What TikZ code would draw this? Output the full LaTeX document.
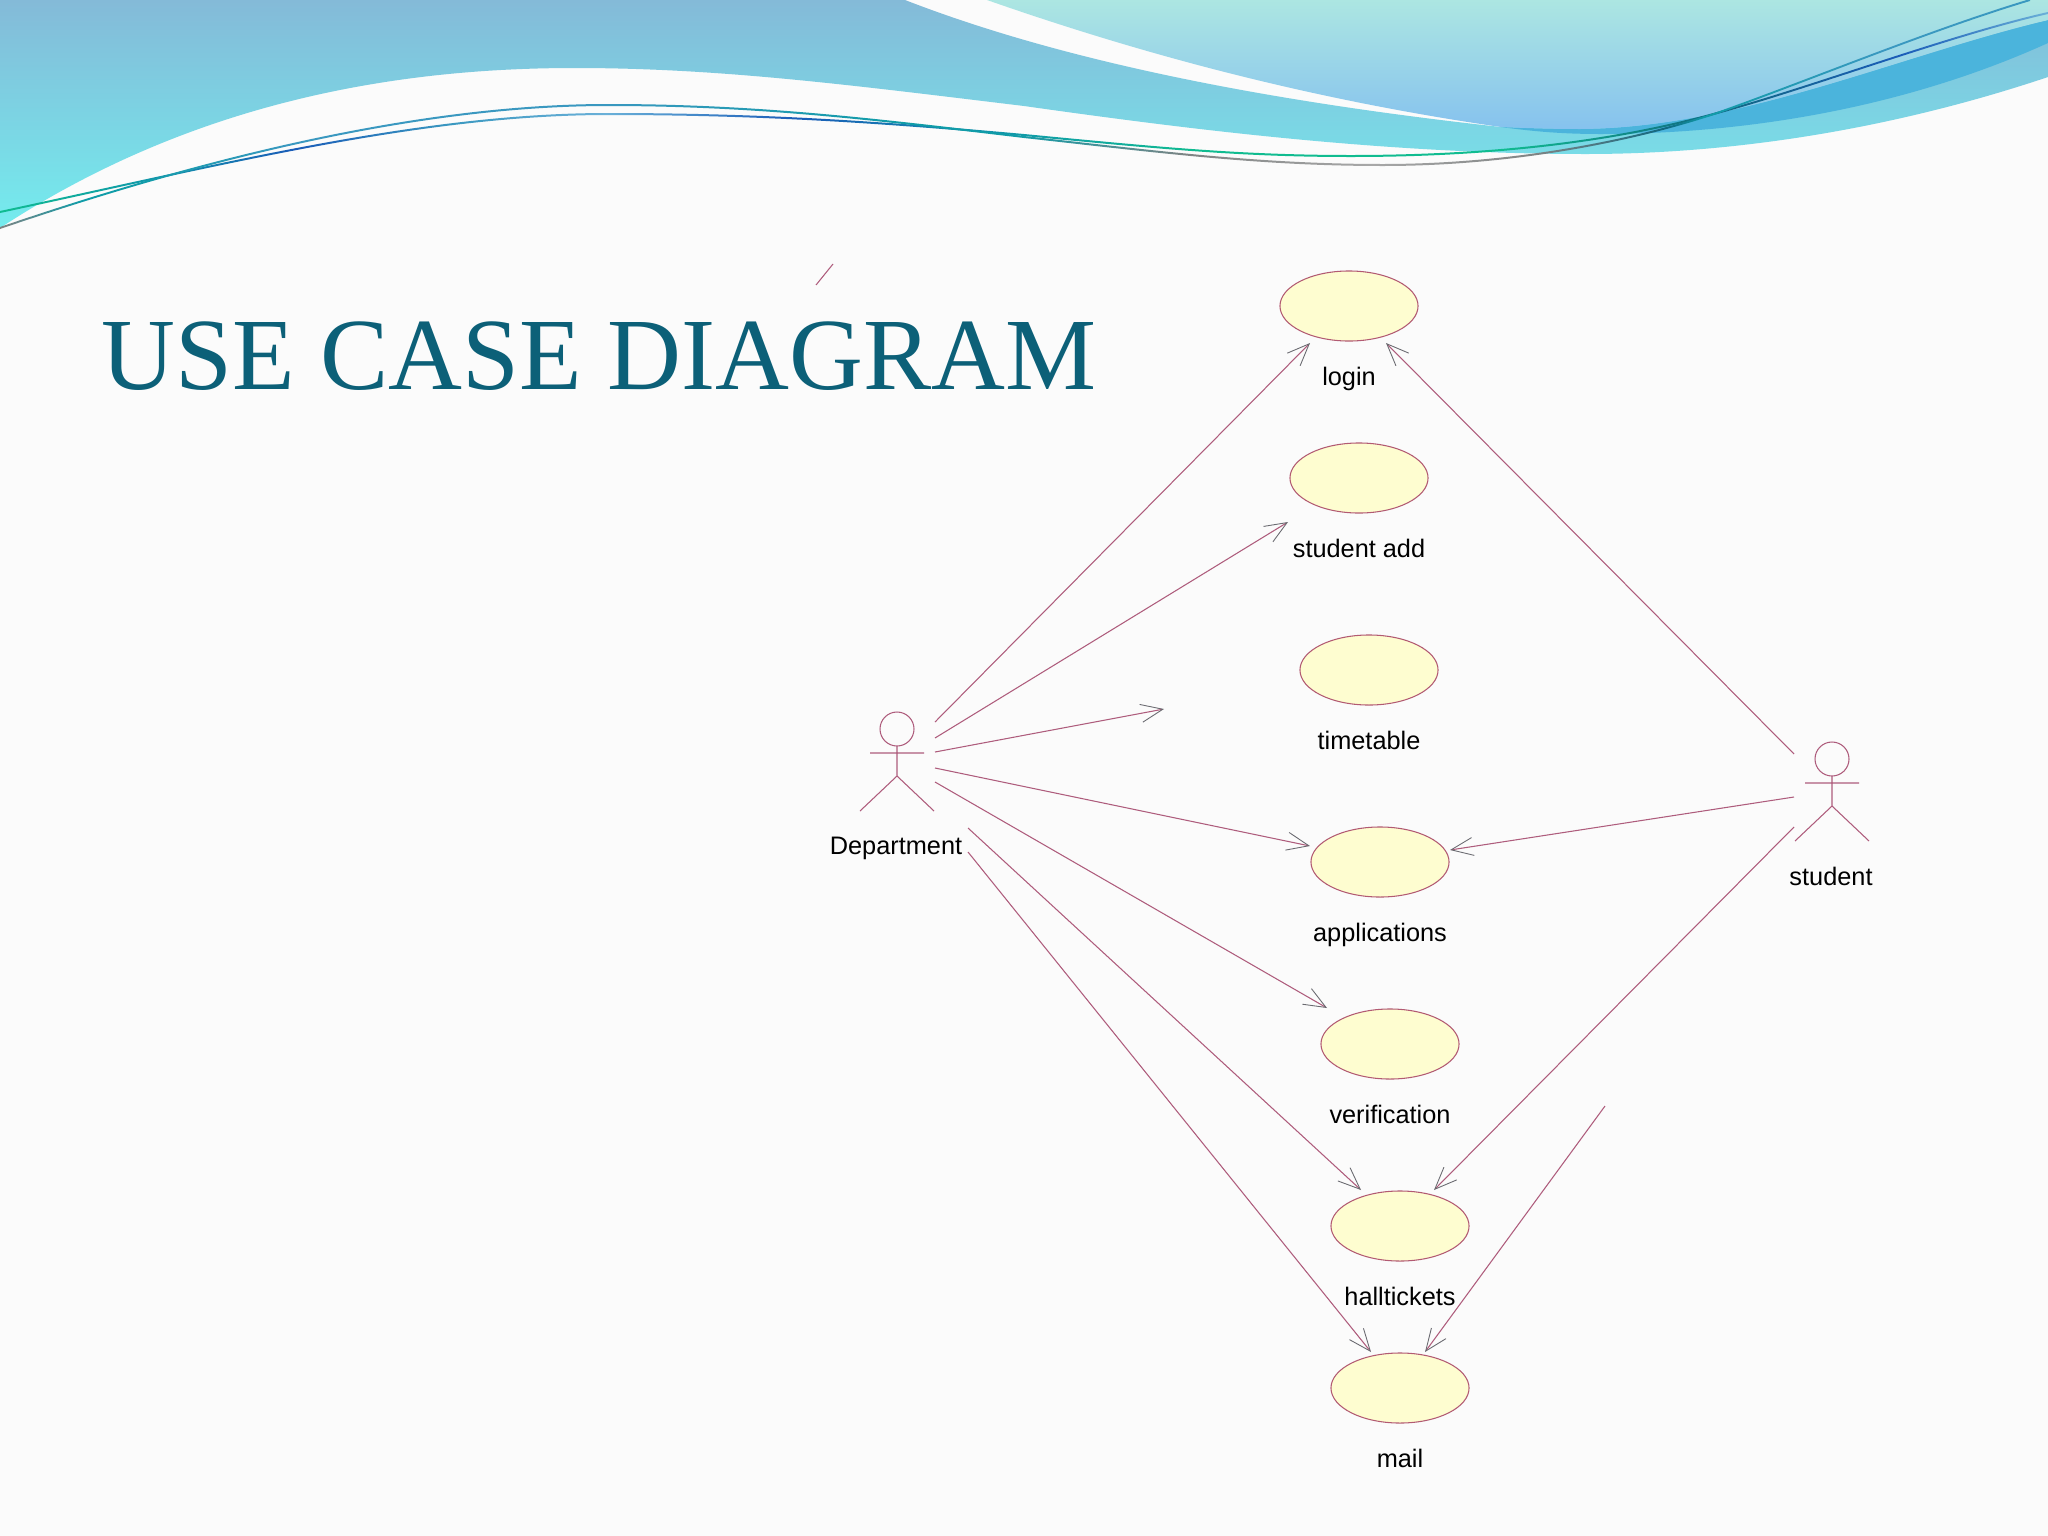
\documentclass[tikz,border=0pt]{standalone}
\usepackage{fontspec}
\setmainfont{Liberation Sans}
\newfontfamily\titlefont{Liberation Serif}
\usetikzlibrary{arrows.meta,calc,shapes.geometric}
\definecolor{pagebg}{HTML}{FBFBFB}
\definecolor{bandtop}{HTML}{84BAD8}
\definecolor{bandbot}{HTML}{74ECEE}
\definecolor{lighttop}{HTML}{ACE6E2}
\definecolor{lightbot}{HTML}{86C2EE}
\definecolor{stripe}{HTML}{4BB4DC}
\definecolor{titlec}{HTML}{0C6078}
\definecolor{linec}{HTML}{AE5C7C}
\definecolor{barbc}{HTML}{6A6A70}
\definecolor{ufill}{HTML}{FEFDD0}
\definecolor{ustroke}{HTML}{B25A72}
\definecolor{lgreen}{HTML}{10BC90}
\definecolor{lteal}{HTML}{109CA8}
\definecolor{lblue}{HTML}{1A5CB8}
\definecolor{lsky}{HTML}{6AB0D8}
\definecolor{lmid}{HTML}{3A98C0}
\definecolor{lgray}{HTML}{A8A8A8}
\definecolor{ldgray}{HTML}{808484}
\definecolor{ldeep}{HTML}{106880}
\pgfdeclarehorizontalshading{lineA}{100bp}{color(0bp)=(lgreen); color(25bp)=(lgreen); color(28.3bp)=(lteal); color(32.2bp)=(lblue); color(36bp)=(lmid); color(39.8bp)=(lsky); color(44.5bp)=(lblue); color(50bp)=(lteal); color(54.3bp)=(lgreen); color(61.6bp)=(lgreen); color(66.9bp)=(ldeep); color(71.4bp)=(lblue); color(75bp)=(lsky); color(100bp)=(lsky)}
\pgfdeclarehorizontalshading{lineB}{100bp}{color(0bp)=(ldgray); color(25bp)=(ldgray); color(27bp)=(lteal); color(28.3bp)=(lteal); color(32.2bp)=(lmid); color(39.8bp)=(lmid); color(47bp)=(lteal); color(50bp)=(lteal); color(54.3bp)=(ldgray); color(58.8bp)=(lgray); color(62.8bp)=(ldgray); color(66bp)=(ldeep); color(67bp)=(lteal); color(71.4bp)=(lmid); color(75bp)=(lmid); color(100bp)=(lmid)}
\tikzset{
  usecase/.style={ellipse,draw=ustroke,fill=ufill,line width=.3pt,minimum width=1.38cm,minimum height=.70cm,inner sep=0pt},
  umltext/.style={anchor=base,inner sep=0pt,text=black,font=\fontsize{7.2}{9}\selectfont},
  assoc/.style={draw=linec,line width=.3pt,-{Straight Barb[length=2.2mm,width=1.8mm,color=barbc,line width=.25pt]}},
  actorline/.style={draw=linec,line width=.3pt},
  actorfig/.pic={
    \draw[actorline] (0,0) circle[radius=17];
    \draw[actorline] (0,17) -- (0,47) (-27,24) -- (27,24) (-37,82) -- (0,47) -- (37,82);
  }
}
\begin{document}
\begin{tikzpicture}[x=0.01cm,y=-0.01cm]
\useasboundingbox (0,0) rectangle (2048,1536);
\fill[pagebg] (0,0) rectangle (2048,1536);
% main band
\shade[top color=bandtop,bottom color=bandbot]
  (0,0) -- (905,0) .. controls (1080,68) and (1300,105) .. (1501,127)
  -- (2048,20) -- (2048,77)
  .. controls (1920,120) and (1760,154) .. (1586,154)
  .. controls (1380,154) and (1180,128) .. (1024,106)
  .. controls (850,85) and (720,68) .. (575,68)
  .. controls (400,68) and (195,100) .. (0,228) -- cycle;
% dark stripe
\fill[stripe]
  (1501,127) .. controls (1525,128) and (1550,129) .. (1580,129)
  .. controls (1740,128) and (1900,55) .. (2048,20) -- (2048,43)
  .. controls (1900,110) and (1740,134) .. (1600,134)
  .. controls (1560,134) and (1530,131) .. (1501,127) -- cycle;
% light shape
\shade[top color=lighttop,bottom color=lightbot]
  (987,0) -- (2048,0) -- (2048,20)
  .. controls (1900,55) and (1740,128) .. (1580,129)
  .. controls (1550,129) and (1525,128) .. (1501,127)
  .. controls (1300,98) and (1130,50) .. (987,0) -- cycle;
% thin swooshes
\path[shading=lineA,shading angle=0]
  (0,211) .. controls (220,164) and (420,113) .. (608,113)
  .. controls (760,113) and (880,121) .. (1024,134)
  .. controls (1160,147) and (1240,155) .. (1351,155)
  .. controls (1500,155) and (1620,139) .. (1717,112)
  .. controls (1810,87) and (1950,34) .. (2048,12)
  -- (2048,14)
  .. controls (1950,36) and (1810,89) .. (1717,114)
  .. controls (1620,141) and (1500,157) .. (1351,157)
  .. controls (1240,157) and (1160,149) .. (1024,136)
  .. controls (880,123) and (760,115) .. (608,115)
  .. controls (420,115) and (220,166) .. (0,213) -- cycle;
\path[shading=lineB,shading angle=0]
  (0,227) .. controls (170,169) and (400,104) .. (608,104)
  .. controls (760,104) and (880,119) .. (1024,136)
  .. controls (1160,151) and (1260,164) .. (1383,164)
  .. controls (1500,164) and (1620,144) .. (1717,112)
  .. controls (1810,79) and (1930,29) .. (2030,-1)
  -- (2030,1)
  .. controls (1930,31) and (1810,81) .. (1717,114)
  .. controls (1620,146) and (1500,166) .. (1383,166)
  .. controls (1260,166) and (1160,153) .. (1024,138)
  .. controls (880,121) and (760,106) .. (608,106)
  .. controls (400,106) and (170,171) .. (0,229) -- cycle;
% title
\node[anchor=base west,inner sep=0pt,text=titlec,font=\titlefont\fontsize{29.1}{34}\selectfont] (title) at (101,389) {USE CASE DIAGRAM};
% stray tick
\coordinate (tickA) at (833,264);
\coordinate (tickB) at (816,285);
\draw[actorline] (tickA) -- (tickB);
% use cases
\node[usecase] (login) at (1349,306) {};
\node[usecase] (studentadd) at (1359,478) {};
\node[usecase] (timetable) at (1369,670) {};
\node[usecase] (applications) at (1380,862) {};
\node[usecase] (verification) at (1390,1044) {};
\node[usecase] (halltickets) at (1400,1226) {};
\node[usecase] (mail) at (1400,1388) {};
\node[umltext] (loginlabel) at (1349,385) {login};
\node[umltext] (studentaddlabel) at (1359,557) {student add};
\node[umltext] (timetablelabel) at (1369,749) {timetable};
\node[umltext] (applicationslabel) at (1380,941) {applications};
\node[umltext] (verificationlabel) at (1390,1123) {verification};
\node[umltext] (hallticketslabel) at (1400,1305) {halltickets};
\node[umltext] (maillabel) at (1400,1467) {mail};
% actors
\coordinate (dep) at (897,729);
\coordinate (stu) at (1832,759);
\pic at (dep) {actorfig};
\pic at (stu) {actorfig};
\node[umltext] (deplabel) at (896,854) {Department};
\node[umltext] (stulabel) at (1831,885) {student};
% free ends
\coordinate (freeEnd) at (1164,709);
\coordinate (freeStart) at (1605,1106);
% connectors
\draw[assoc] ($(dep)+(38,-7)$) -- ($(login)+(-39,37)$);
\draw[assoc] ($(dep)+(38,9)$) -- ($(studentadd)+(-71,44)$);
\draw[assoc] ($(dep)+(38,23)$) -- (freeEnd);
\draw[assoc] ($(dep)+(38,39)$) -- ($(applications)+(-70,-16)$);
\draw[assoc] ($(dep)+(38,53)$) -- ($(verification)+(-63,-36)$);
\draw[assoc] ($(dep)+(71,99)$) -- ($(halltickets)+(-39,-36)$);
\draw[assoc] ($(dep)+(71,123)$) -- ($(mail)+(-29,-36)$);
\draw[assoc] ($(stu)+(-38,-5)$) -- ($(login)+(37,37)$);
\draw[assoc] ($(stu)+(-38,38)$) -- ($(applications)+(70,-12)$);
\draw[assoc] ($(stu)+(-38,68)$) -- ($(halltickets)+(34,-36)$);
\draw[assoc] (freeStart) -- ($(mail)+(25,-36)$);
\end{tikzpicture}
\end{document}
